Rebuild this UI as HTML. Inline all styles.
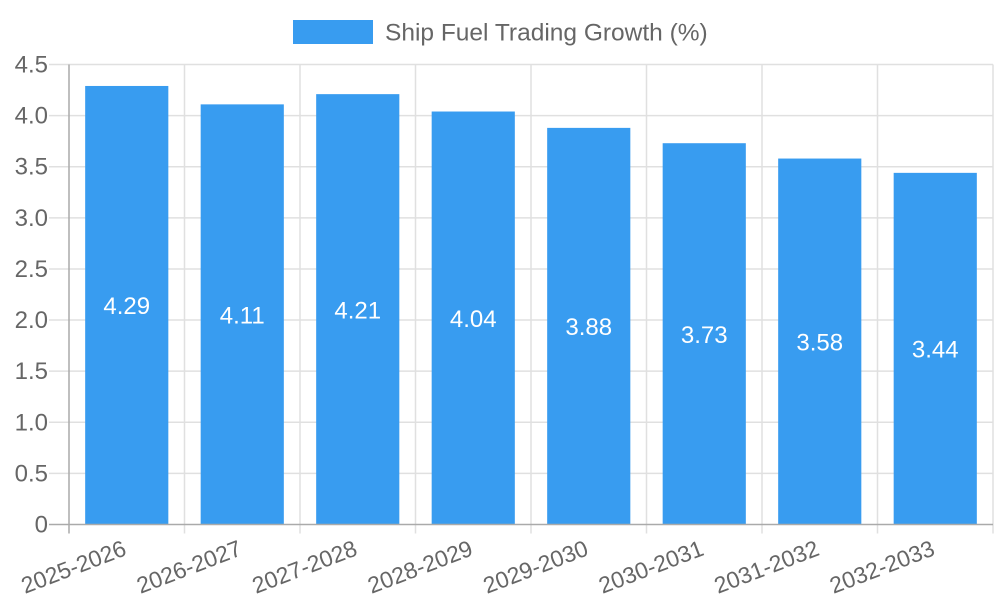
<!DOCTYPE html>
<html><head><meta charset="utf-8"><style>
html,body{margin:0;padding:0;background:#fff;}
svg{display:block;font-family:"Liberation Sans",sans-serif;}
</style></head><body>
<svg id="chart" width="1000" height="600" viewBox="0 0 1000 600" xmlns="http://www.w3.org/2000/svg">
<g>
<rect x="293" y="20" width="80" height="24" fill="#389cf0"/>
<text x="385" y="40.5" font-size="24.5" fill="#666">Ship Fuel Trading Growth (%)</text>
</g>
<g id="grid"></g>
<g id="bars"></g>
<g id="axes"></g>
</svg>
<script>
const categories = ["2025-2026","2026-2027","2027-2028","2028-2029","2029-2030","2030-2031","2031-2032","2032-2033"];
const values = [4.29,4.11,4.21,4.04,3.88,3.73,3.58,3.44];
const yTicks = [0,0.5,1,1.5,2,2.5,3,3.5,4,4.5];
const yTickLabels = ["0","0.5","1.0","1.5","2.0","2.5","3.0","3.5","4.0","4.5"];

const NS="http://www.w3.org/2000/svg";
const L=69, R=993, T=64.5, B=524.5, yMax=4.5;
const bw=(R-L)/categories.length;
const y=v=>B-(v/yMax)*(B-T);
const x=i=>L+i*bw;
function mk(tag,attrs,parent,text){const e=document.createElementNS(NS,tag);for(const k in attrs)e.setAttribute(k,attrs[k]);if(text!==undefined)e.textContent=text;parent.appendChild(e);return e;}
const grid=document.getElementById('grid'), bars=document.getElementById('bars'), axes=document.getElementById('axes');

yTicks.forEach((t,i)=>{
  const ln=mk('line',{x1:49,x2:R,y1:y(t),y2:y(t),stroke:i===0?'#aaa':'#e0e0e0','stroke-width':1.5},i===0?axes:grid);
  
  
  const tx=mk('text',{x:48,y:y(t)+8,'text-anchor':'end','font-size':24,fill:'#666'},axes,yTickLabels[i]);
  
  
});
for(let i=0;i<=categories.length;i++){
  const ln=mk('line',{x1:x(i),x2:x(i),y1:T,y2:B+9,stroke:i===0?'#aaa':'#e0e0e0','stroke-width':1.5},i===0?axes:grid);
  
  
}
categories.forEach((c,i)=>{
  const v=values[i];
  const bx=x(i)+bw*0.14, w=bw*0.72;
  const r=mk('rect',{x:bx,y:y(v),width:w,height:B-y(v),fill:'#389cf0'},bars);
  
  
  const vt=mk('text',{x:bx+w/2,y:(y(v)+B)/2+9,'text-anchor':'middle','font-size':24,fill:'#fff'},bars,v.toFixed(2));
  
  
  const cx=x(i)+bw/2;
  const ax=cx+1, ay=B+30;
  const lt=mk('text',{x:ax,y:ay,'text-anchor':'end','font-size':23,fill:'#666',transform:`rotate(-21 ${ax} ${ay})`},axes,c);
  
  
});
</script>
</body></html>
